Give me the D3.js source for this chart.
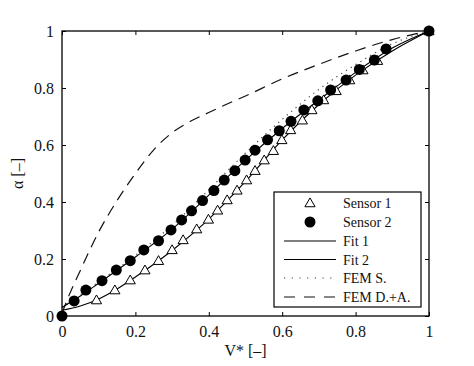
<!DOCTYPE html>
<html><head><meta charset="utf-8">
<script src="https://cdn.jsdelivr.net/npm/d3@7"></script>
<style>html,body{margin:0;padding:0;background:#fff;}svg{display:block;}</style>
</head><body><svg id="c" width="474" height="366"></svg>
<script>
const xTicks = [0, 0.2, 0.4, 0.6, 0.8, 1];
const yTicks = [0, 0.2, 0.4, 0.6, 0.8, 1];
const xTickLabels = ["0", "0.2", "0.4", "0.6", "0.8", "1"];
const yTickLabels = ["0", "0.2", "0.4", "0.6", "0.8", "1"];

const sensor1V = [0.094,0.144,0.186,0.226,0.263,0.300,0.330,0.367,0.399,0.424,0.450,0.477,0.503,0.526,0.551,0.576,0.599,0.623,0.655,0.681,0.713,0.747,0.784,0.820,0.860,1.0];
const sensor1A = [0.056,0.091,0.126,0.161,0.194,0.232,0.267,0.305,0.339,0.371,0.407,0.441,0.477,0.510,0.547,0.580,0.618,0.653,0.687,0.723,0.758,0.790,0.828,0.863,0.896,1.0];

const sensor2V = [0,0.033,0.065,0.109,0.148,0.186,0.223,0.263,0.297,0.326,0.353,0.383,0.414,0.442,0.471,0.499,0.526,0.560,0.592,0.624,0.659,0.697,0.732,0.774,0.810,0.851,0.883,1.0];
const sensor2A = [0,0.053,0.091,0.124,0.161,0.194,0.232,0.264,0.302,0.337,0.369,0.405,0.440,0.477,0.510,0.547,0.582,0.618,0.650,0.683,0.723,0.755,0.793,0.828,0.865,0.898,0.937,1.0];

const fit1V = [0,0.05,0.1,0.15,0.2,0.3,0.4,0.5,0.6,0.7,0.8,0.9,1];
const fit1A = [0.02,0.035,0.06,0.095,0.137,0.23,0.34,0.472,0.618,0.742,0.845,0.93,1.0];

const fit2V = [0,0.05,0.1,0.2,0.3,0.4,0.5,0.6,0.7,0.8,0.9,1];
const fit2A = [0.03,0.07,0.115,0.207,0.305,0.424,0.547,0.658,0.758,0.855,0.94,1.0];

const femSV = [0,0.1,0.2,0.3,0.4,0.5,0.6,0.7,0.8,0.9,1];
const femSA = [0.03,0.12,0.213,0.318,0.443,0.572,0.69,0.795,0.882,0.955,1.0];

const femDAV = [0,0.02,0.05,0.1,0.15,0.2,0.25,0.3,0.35,0.4,0.45,0.5,0.6,0.7,0.8,0.9,1];
const femDAA = [0.01,0.075,0.16,0.295,0.405,0.5,0.583,0.643,0.683,0.714,0.744,0.772,0.832,0.883,0.93,0.97,1.0];

const legendLabels = ["Sensor 1","Sensor 2","Fit 1","Fit 2","FEM S.","FEM D.+A."];

const svg = d3.select("#c");
const L = 62, R = 429, T = 31, B = 316;
const x = d3.scaleLinear().domain([0,1]).range([L,R]);
const y = d3.scaleLinear().domain([0,1]).range([B,T]);
const font = "'Liberation Serif','Times New Roman',serif";

const zip = (a,b) => a.map((v,i)=>[v,b[i]]);
const line = d3.line().x(d=>x(d[0])).y(d=>y(d[1])).curve(d3.curveMonotoneX);

const axB = d3.axisBottom(x).tickValues(xTicks).tickFormat((d,i)=>xTickLabels[i]).tickSizeInner(-4).tickSizeOuter(0).tickPadding(10);
const axL = d3.axisLeft(y).tickValues(yTicks).tickFormat((d,i)=>yTickLabels[i]).tickSizeInner(-4).tickSizeOuter(0).tickPadding(8);
const axT = d3.axisTop(x).tickValues(xTicks).tickFormat("").tickSizeInner(-4).tickSizeOuter(0);
const axR = d3.axisRight(y).tickValues(yTicks).tickFormat("").tickSizeInner(-4).tickSizeOuter(0);

function styleAxis(g){
  g.selectAll("path").remove();
  g.selectAll("line").attr("stroke","#000").attr("stroke-width",1);
  g.selectAll("text").attr("font-family",font).attr("font-size",16).attr("fill","#111");
}
svg.append("g").attr("transform",`translate(0,${B})`).call(axB).call(styleAxis);
svg.append("g").attr("transform",`translate(${L},0)`).call(axL).call(styleAxis);
svg.append("g").attr("transform",`translate(0,${T})`).call(axT).call(styleAxis);
svg.append("g").attr("transform",`translate(${R},0)`).call(axR).call(styleAxis);

svg.append("path").datum(zip(femDAV,femDAA)).attr("d",line).attr("fill","none")
  .attr("stroke","#111").attr("stroke-width",1.2).attr("stroke-dasharray","11,7");
svg.append("path").datum(zip(femSV,femSA)).attr("d",line).attr("fill","none")
  .attr("stroke","#444").attr("stroke-width",1.2).attr("stroke-dasharray","1.2,4.5");
svg.append("path").datum(zip(fit1V,fit1A)).attr("d",line).attr("fill","none")
  .attr("stroke","#000").attr("stroke-width",1.1);
svg.append("path").datum(zip(fit2V,fit2A)).attr("d",line).attr("fill","none")
  .attr("stroke","#000").attr("stroke-width",1.1);

const tri = d3.symbol().type(d3.symbolTriangle).size(45);
svg.append("g").selectAll("path").data(zip(sensor1V,sensor1A)).join("path")
  .attr("d",tri).attr("transform",d=>`translate(${x(d[0])},${y(d[1])+0.8})`)
  .attr("fill","#fff").attr("stroke","#000").attr("stroke-width",1);
svg.append("g").selectAll("circle").data(zip(sensor2V,sensor2A)).join("circle")
  .attr("cx",d=>x(d[0])).attr("cy",d=>y(d[1])).attr("r",5.5).attr("fill","#000");

svg.append("rect").attr("x",L).attr("y",T).attr("width",R-L).attr("height",B-T)
  .attr("fill","none").attr("stroke","#000").attr("stroke-width",1.3);

svg.append("text").attr("x",(L+R)/2).attr("y",356).attr("text-anchor","middle")
  .attr("font-family",font).attr("font-size",16).attr("fill","#111").text("V* [–]");
svg.append("text").attr("transform",`translate(23,${(T+B)/2}) rotate(-90)`).attr("text-anchor","middle")
  .attr("font-family",font).attr("font-size",16).attr("fill","#111").text("α [–]");

const lg = svg.append("g");
lg.append("rect").attr("x",274).attr("y",192).attr("width",147).attr("height",115)
  .attr("fill","#fff").attr("stroke","#000").attr("stroke-width",1.2);
const rowsY = [203,222,241,259.5,278,297];
const sx0 = 284, sx1 = 336, tx = 343;
lg.append("path").attr("d",tri).attr("transform",`translate(${(sx0+sx1)/2},${rowsY[0]+0.8})`)
  .attr("fill","#fff").attr("stroke","#000").attr("stroke-width",1);
lg.append("circle").attr("cx",(sx0+sx1)/2).attr("cy",rowsY[1]).attr("r",5.5).attr("fill","#000");
lg.append("line").attr("x1",sx0).attr("x2",sx1).attr("y1",rowsY[2]).attr("y2",rowsY[2]).attr("stroke","#000").attr("stroke-width",1.1);
lg.append("line").attr("x1",sx0).attr("x2",sx1).attr("y1",rowsY[3]).attr("y2",rowsY[3]).attr("stroke","#000").attr("stroke-width",1.1);
lg.append("line").attr("x1",sx0).attr("x2",sx1).attr("y1",rowsY[4]).attr("y2",rowsY[4]).attr("stroke","#444").attr("stroke-width",1.2).attr("stroke-dasharray","1.2,6.5");
lg.append("line").attr("x1",sx0).attr("x2",sx1).attr("y1",rowsY[5]).attr("y2",rowsY[5]).attr("stroke","#111").attr("stroke-width",1.2).attr("stroke-dasharray","11,9");
lg.selectAll("text.l").data(legendLabels).join("text").attr("class","l")
  .attr("x",tx).attr("y",(d,i)=>rowsY[i]+5).attr("font-family",font).attr("font-size",14).attr("fill","#111").text(d=>d);
</script>
</body></html>
